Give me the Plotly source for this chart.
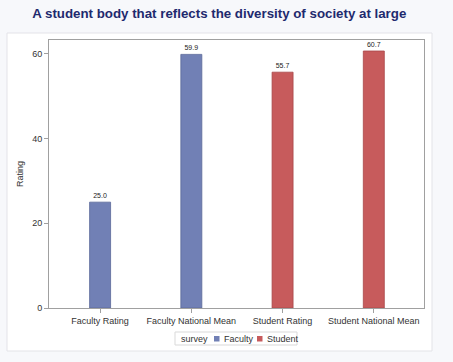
import plotly.graph_objects as go

categories = ["Faculty Rating", "Faculty National Mean", "Student Rating", "Student National Mean"]
faculty_x = ["Faculty Rating", "Faculty National Mean"]
faculty_y = [25.0, 59.9]
student_x = ["Student Rating", "Student National Mean"]
student_y = [55.7, 60.7]
legend_title = "survey"
series_names = ["Faculty", "Student"]

fac_color = "#7180b5"
stu_color = "#c75b5c"
font_c = "#333333"

# plot area in pixels: x 49..424, y 40..308
def px(x):
    return (x - 49) / 375.0

def py(y):
    return (308 - y) / 268.0

fig = go.Figure()
fig.add_trace(go.Bar(x=faculty_x, y=faculty_y, name=series_names[0], width=0.23,
                     marker=dict(color=fac_color, line=dict(color="#5a6899", width=0.8)),
                     texttemplate="%{y:.1f}", textposition="outside",
                     textfont=dict(size=7, color="#222222", family="Arial"), cliponaxis=False))
fig.add_trace(go.Bar(x=student_x, y=student_y, name=series_names[1], width=0.23,
                     marker=dict(color=stu_color, line=dict(color="#a84849", width=0.8)),
                     texttemplate="%{y:.1f}", textposition="outside",
                     textfont=dict(size=7, color="#222222", family="Arial"), cliponaxis=False))

shapes = [
    dict(type="rect", xref="paper", yref="paper", x0=px(7), x1=px(432), y0=py(351), y1=py(33),
         fillcolor="white", line=dict(color="#e3e3e8", width=1), layer="below"),
    # legend box
    dict(type="rect", xref="paper", yref="paper", x0=px(175), x1=px(297), y0=py(345), y1=py(332),
         fillcolor="white", line=dict(color="#d9d9d9", width=1)),
    dict(type="rect", xref="paper", yref="paper", x0=px(214), x1=px(219.5), y0=py(341.5), y1=py(336),
         fillcolor=fac_color, line=dict(width=0)),
    dict(type="rect", xref="paper", yref="paper", x0=px(257), x1=px(262.5), y0=py(341.5), y1=py(336),
         fillcolor=stu_color, line=dict(width=0)),
]
annotations = [
    dict(text=legend_title, xref="paper", yref="paper", x=px(179), y=py(339), xanchor="left",
         yanchor="middle", showarrow=False, font=dict(size=9, color=font_c)),
    dict(text=series_names[0], xref="paper", yref="paper", x=px(222), y=py(339), xanchor="left",
         yanchor="middle", showarrow=False, font=dict(size=9, color=font_c)),
    dict(text=series_names[1], xref="paper", yref="paper", x=px(265), y=py(339), xanchor="left",
         yanchor="middle", showarrow=False, font=dict(size=9, color=font_c)),
]

fig.update_layout(
    width=453, height=362,
    margin=dict(l=49, r=29, t=40, b=54, autoexpand=False),
    paper_bgcolor="#f7f8fb",
    plot_bgcolor="white",
    barmode="overlay",
    font=dict(family="Arial, Liberation Sans, sans-serif", size=9, color=font_c),
    title=dict(text="<b>A student body that reflects the diversity of society at large</b>",
               x=0.484, xanchor="center", y=0.962, yanchor="middle",
               font=dict(size=13.3, color="#1f2a6e", family="Arial, Liberation Sans, sans-serif")),
    showlegend=False,
    shapes=shapes,
    annotations=annotations,
)
fig.update_xaxes(type="category", categoryorder="array", categoryarray=categories,
                 range=[-0.56, 3.55], showline=True, linecolor="#a0a0a0", linewidth=1,
                 mirror=True, ticks="outside", ticklen=4, tickcolor="#a0a0a0", automargin=False,
                 showgrid=False, tickfont=dict(size=9, color=font_c))
fig.update_yaxes(range=[0, 63.3], tickvals=[0, 20, 40, 60], showline=True, linecolor="#a0a0a0",
                 linewidth=1, mirror=True, ticks="outside", ticklen=4, tickcolor="#a0a0a0",
                 showgrid=False, zeroline=False, tickfont=dict(size=9, color=font_c), automargin=False,
                 title=dict(text="Rating", font=dict(size=9, color=font_c), standoff=7))

fig.write_html("out.html", config={"displayModeBar": False},
               post_script="document.body.style.margin='0';document.body.style.overflow='hidden';document.body.style.background='#f7f8fb';")
